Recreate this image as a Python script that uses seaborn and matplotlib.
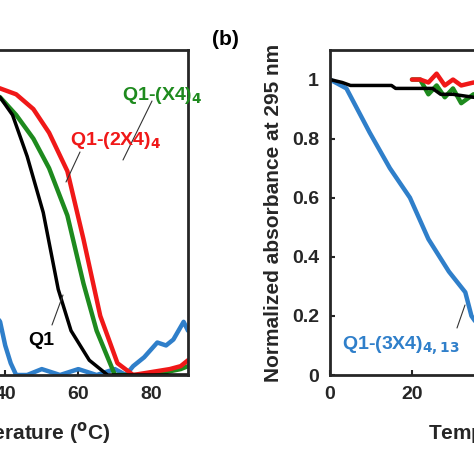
import numpy as np
import matplotlib as mpl
mpl.use('Agg')
import matplotlib.pyplot as plt
import seaborn as sns

sns.set_style('ticks')
plt.rcParams['font.family'] = ['Liberation Sans', 'DejaVu Sans']
plt.rcParams['font.weight'] = 'bold'

# panel (a): melting curves
t_q1 = [30, 38.6, 42, 46, 50.4, 54.5, 58, 63, 68, 75, 90]
v_q1 = [1.0, 0.94, 0.88, 0.74, 0.55, 0.29, 0.15, 0.05, 0.0, 0.0, 0.0]
t_x4 = [30, 38.6, 43, 47.7, 52, 57, 61.4, 65, 68, 70, 80, 88, 90]
v_x4 = [1.0, 0.94, 0.88, 0.80, 0.70, 0.54, 0.31, 0.15, 0.06, 0.0, 0.0, 0.02, 0.03]
t_2x4 = [30, 38.6, 43, 47.7, 52, 57, 61.4, 66, 70.7, 75, 80, 85, 88, 90]
v_2x4 = [1.0, 0.97, 0.95, 0.90, 0.82, 0.69, 0.46, 0.20, 0.04, 0.0, 0.01, 0.02, 0.03, 0.05]
t_3x4 = [30, 38.6, 40, 41.5, 43, 46, 50, 55, 60, 65, 70, 73, 75, 78, 81.6, 84, 86, 88.8, 90]
v_3x4 = [0.35, 0.18, 0.10, 0.04, 0.0, 0.0, 0.02, 0.0, 0.02, 0.0, 0.02, 0.0, 0.03, 0.06, 0.11, 0.10, 0.12, 0.18, 0.15]

# panel (b): absorbance at 295 nm
tb_q1 = [0, 3, 5, 15, 16, 25, 27, 30, 35, 40]
vb_q1 = [1.0, 0.99, 0.98, 0.98, 0.97, 0.97, 0.95, 0.95, 0.94, 0.94]
tb_x4 = [20, 22, 24, 26, 28, 30, 32, 35, 40]
vb_x4 = [1.0, 1.0, 0.95, 0.98, 0.94, 0.97, 0.92, 0.95, 0.94]
tb_2x4 = [20, 22, 24, 26, 28, 30, 32, 35, 40]
vb_2x4 = [1.0, 1.0, 0.99, 1.02, 0.98, 1.0, 0.98, 0.99, 0.98]
tb_3x4 = [0, 4, 9.7, 14.6, 19.5, 24, 29, 33, 34.5, 37, 40]
vb_3x4 = [1.0, 0.97, 0.82, 0.70, 0.60, 0.46, 0.35, 0.28, 0.20, 0.15, 0.10]

BLACK, GREEN, RED, BLUE = 'black', '#1e8a1e', '#f01818', '#2f7fca'

fig = plt.figure(figsize=(4.74, 4.74), dpi=100)
W = 474.0
ax_a = fig.add_axes([-141 / W, 1 - 375 / W, 329 / W, 325 / W])
ax_b = fig.add_axes([330 / W, 1 - 375 / W, 369 / W, 325 / W])

for ax, series in [(ax_a, [(t_3x4, v_3x4, BLUE, 3.2), (t_x4, v_x4, GREEN, 3.2),
                           (t_2x4, v_2x4, RED, 3.2), (t_q1, v_q1, BLACK, 2.5)]),
                   (ax_b, [(tb_3x4, vb_3x4, BLUE, 3.2), (tb_x4, vb_x4, GREEN, 3.2),
                           (tb_2x4, vb_2x4, RED, 3.2), (tb_q1, vb_q1, BLACK, 2.5)])]:
    for x, y, c, lw in series:
        sns.lineplot(x=x, y=y, ax=ax, color=c, lw=lw)
    ax.set_xlim(0, 90)
    ax.set_ylim(0, 1.1)
    ax.set_xticks([0, 20, 40, 60, 80])
    ax.set_yticks([0, 0.2, 0.4, 0.6, 0.8, 1])
    ax.set_yticklabels(['0', '0.2', '0.4', '0.6', '0.8', '1'])
    ax.tick_params(direction='in', labelsize=14, width=1.5, pad=8)
    for s in ax.spines.values():
        s.set_linewidth(2)
    for lab in ax.get_xticklabels() + ax.get_yticklabels():
        lab.set_fontweight('bold')
    ax.set_xlabel('Temperature ($^{\\mathbf{o}}$C)', fontsize=15, fontweight='bold', labelpad=12)

ax_b.set_ylabel('Normalized absorbance at 295 nm', fontsize=15, fontweight='bold', labelpad=6)

def ftext(px, py, s, c, size=14, **kw):
    fig.text(px / W, 1 - py / W, s, color=c, fontsize=size, fontweight='bold', **kw)

def fline(x0, y0, x1, y1):
    fig.add_artist(plt.Line2D([x0 / W, x1 / W], [1 - y0 / W, 1 - y1 / W], color='#333333', lw=0.8))

ftext(122, 100, 'Q1-(X4)$_\\mathbf{4}$', GREEN, va='baseline')
fline(152, 101, 123, 160)
ftext(70, 145, 'Q1-(2X4)$_\\mathbf{4}$', RED, va='baseline')
fline(80, 152, 66, 182)
ftext(28, 345, 'Q1', BLACK, va='baseline')
fline(52, 325, 63, 295)
ftext(342, 350, 'Q1-(3X4)$_\\mathbf{4,13}$', BLUE, va='baseline')
fline(457, 328, 465, 305)
ftext(212, 45, '(b)', BLACK, size=15)

fig.savefig('out.png', dpi=100)
